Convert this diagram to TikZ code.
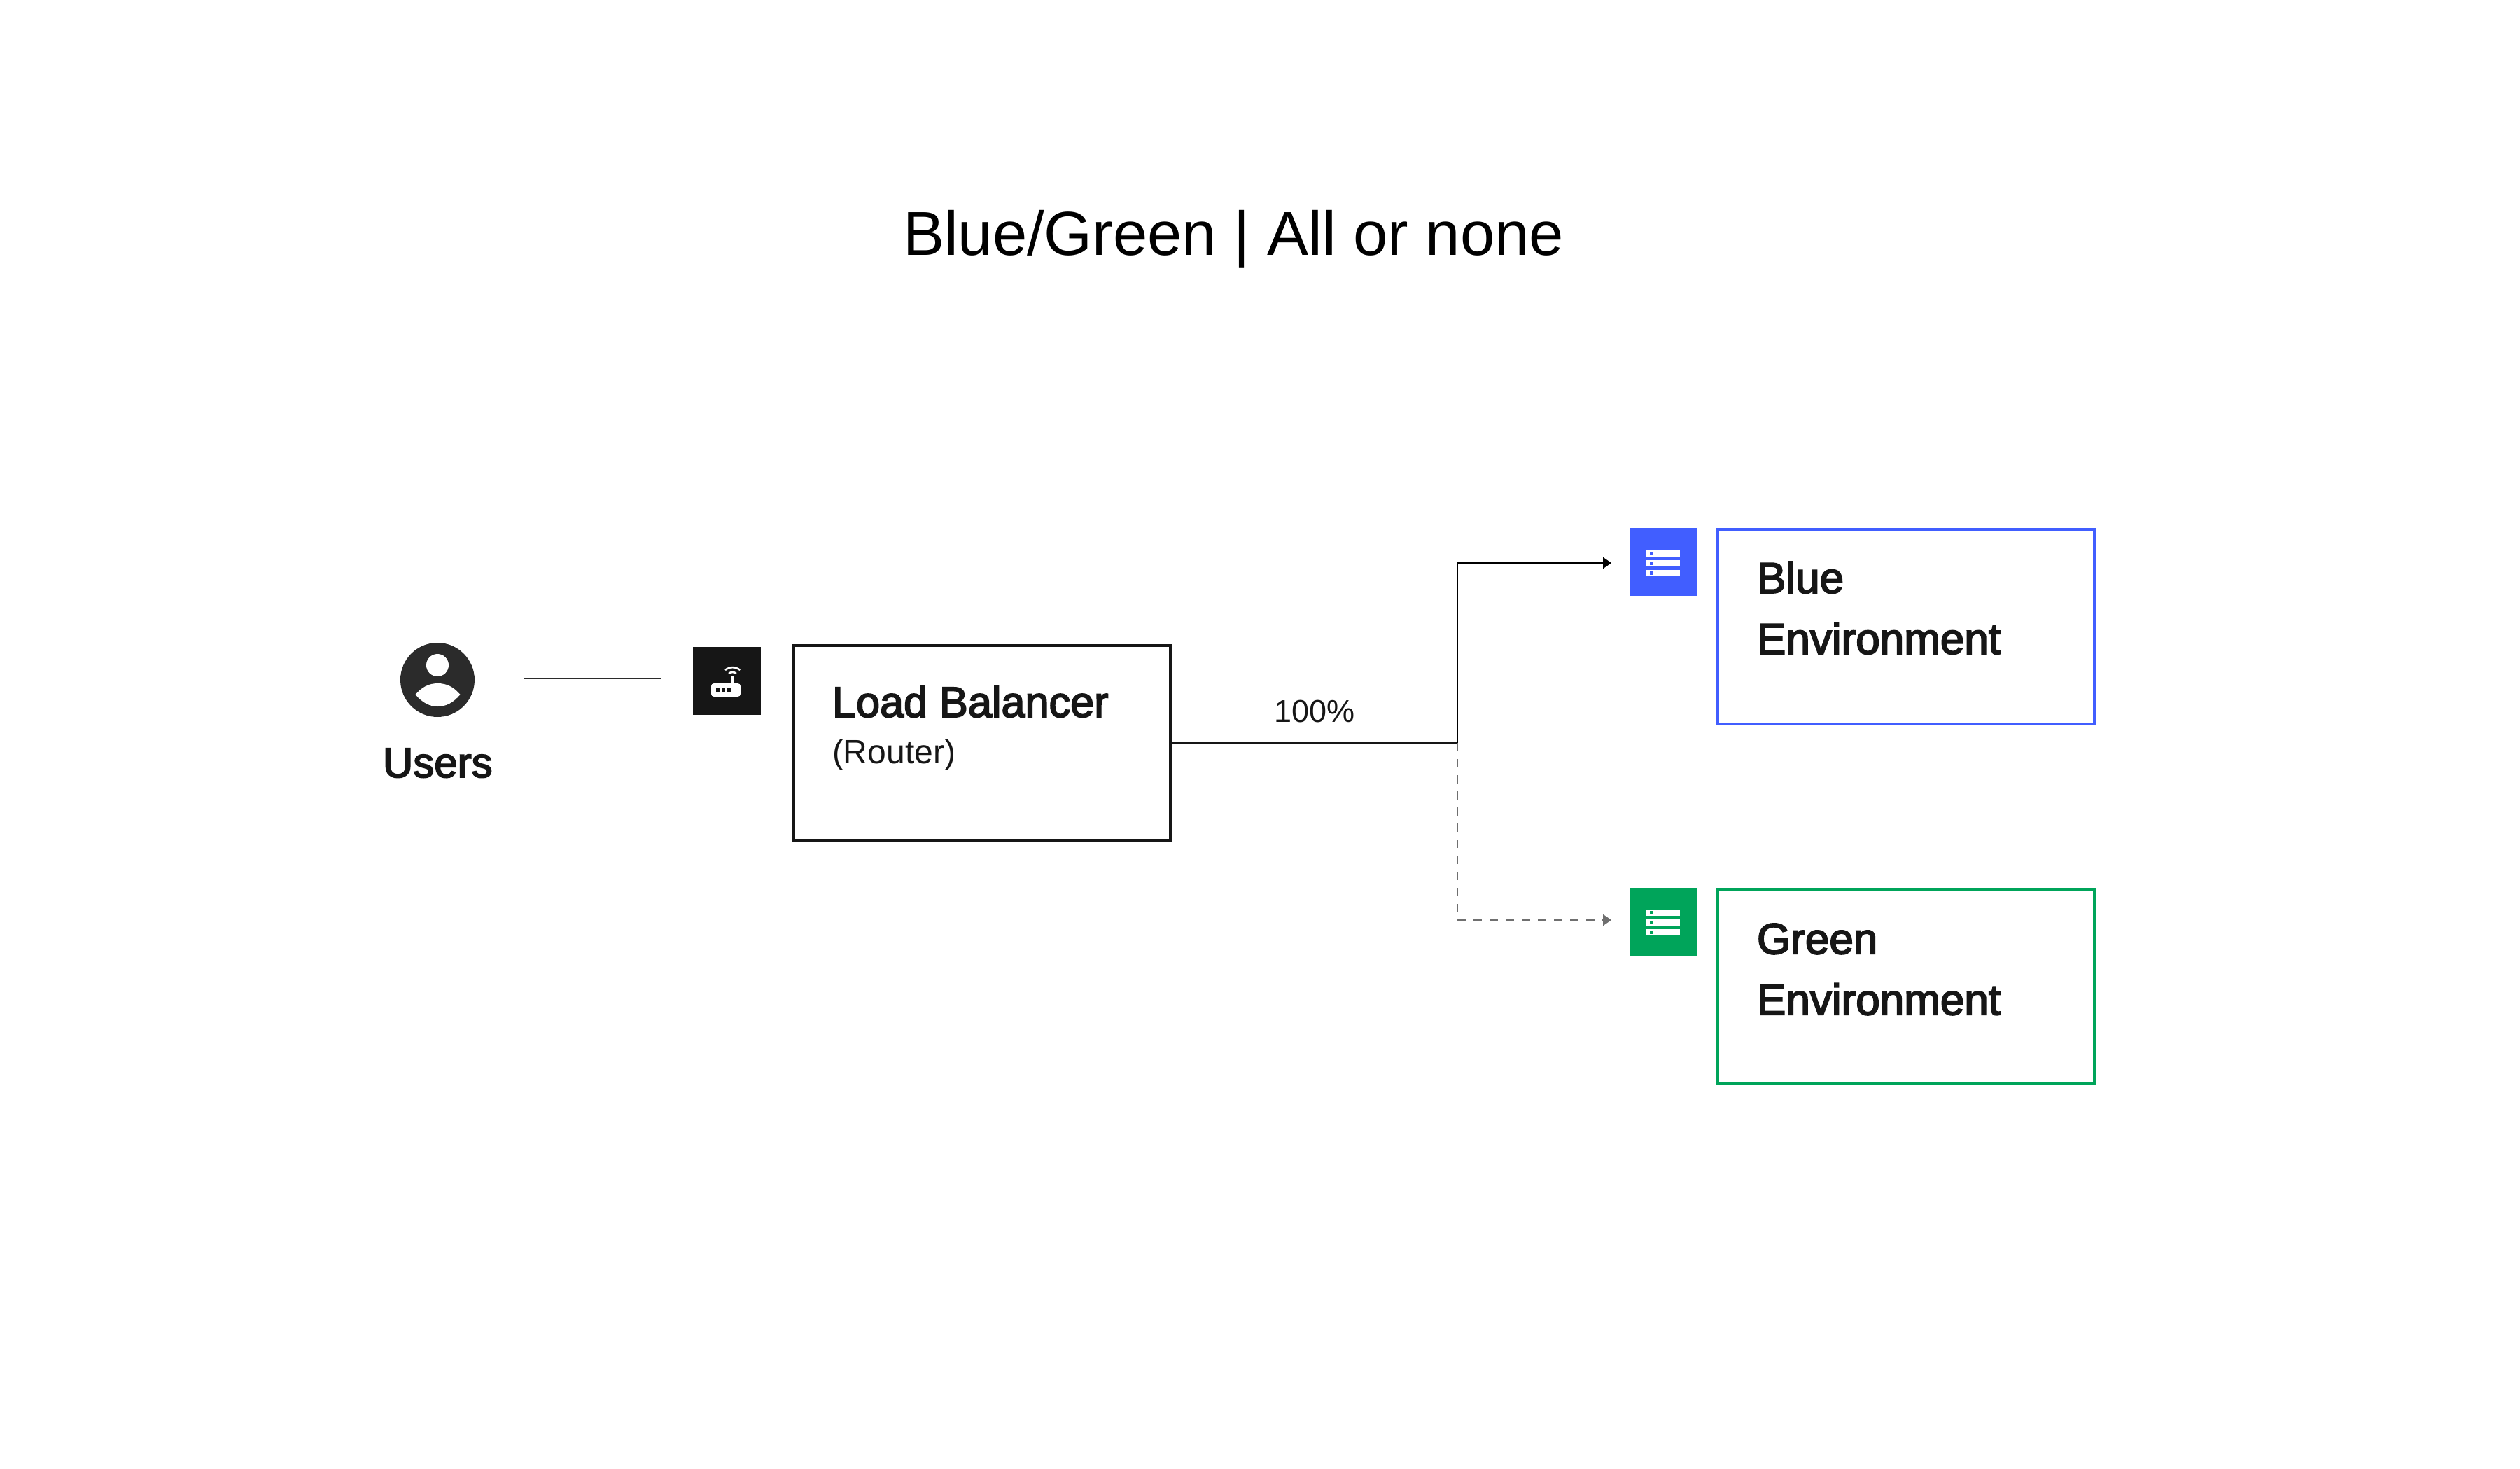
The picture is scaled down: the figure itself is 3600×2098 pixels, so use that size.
\documentclass[tikz,border=0pt]{standalone}
\usepackage{fontspec}
\setmainfont{Liberation Sans}
\newfontfamily\medf[FakeBold=3]{Liberation Sans}
\usetikzlibrary{arrows.meta}
\definecolor{ink}{HTML}{161616}
\definecolor{iconink}{HTML}{2B2B2B}
\definecolor{blueenv}{HTML}{415EFF}
\definecolor{greenenv}{HTML}{00A45A}
\definecolor{dashgray}{HTML}{6F6F6F}
\newcommand{\pxu}{*0.5pt}
\tikzset{
  envbox/.style={draw=#1,line width=2pt,fill=white,inner sep=0pt,outer sep=0pt,minimum width=538\pxu,minimum height=278\pxu},
  lbbox/.style={draw=ink,line width=2pt,fill=white,inner sep=0pt,outer sep=0pt,minimum width=538\pxu,minimum height=278\pxu},
  iconsq/.style={fill=#1,inner sep=0pt,outer sep=0pt,minimum width=97\pxu,minimum height=97\pxu},
  bar/.style={fill=white,inner sep=0pt,outer sep=0pt,minimum width=48\pxu,minimum height=9.5\pxu},
  led/.style={fill=#1,inner sep=0pt,outer sep=0pt,minimum width=4.5\pxu,minimum height=4.5\pxu},
  lbl/.style={inner sep=0pt,outer sep=0pt,anchor=base west,text=ink},
  multilbl/.style={inner sep=0pt,outer sep=0pt,anchor=north west,text=ink,align=left,font=\medf\fontsize{31}{43.5}\selectfont},
  solidlink/.style={draw=black,line width=1pt,-{Triangle[length=6pt,width=8pt]}},
  dashlink/.style={draw=dashgray,line width=1pt,dash pattern=on 6pt off 5.5pt,-{Triangle[length=6pt,width=8pt]}},
}
\begin{document}
\begin{tikzpicture}[x=0.5pt,y=-0.5pt]
\useasboundingbox (0,0) rectangle (3600,2098);
% title
\node[lbl,font=\fontsize{44.3}{50}\selectfont,text=black] (title) at (1290,364) {Blue/Green | All or none};

% users icon
\node[circle,fill=iconink,inner sep=0pt,outer sep=0pt,minimum size=53pt] (usericon) at (625,971) {};
\node[circle,fill=white,inner sep=0pt,outer sep=0pt,minimum size=16pt] (userhead) at (625,950) {};
\fill[white] (593.5,992) .. controls (603,981) and (613,976) .. (625.5,976) .. controls (638,976) and (648,981) .. (657.5,992) .. controls (648,1003) and (638,1009) .. (625.5,1009) .. controls (613,1009) and (603,1003) .. (593.5,992) -- cycle;
\node[lbl,font=\medf\fontsize{30}{36}\selectfont] (users) at (547,1110) {Users};

% users line
\coordinate (ulinea) at (748,969);
\coordinate (ulineb) at (944,969);
\draw[draw=iconink,line width=1pt] (ulinea) -- (ulineb);

% router icon
\node[iconsq=ink] (router) at (1038.5,972.5) {};
\fill[white,rounded corners=2pt] (1016,976) rectangle (1058,995);
\fill[white] (1044.5,965) rectangle (1049,977);
\draw[white,line width=1.3pt] (1041,962) arc[start angle=230,end angle=310,radius=8.5];
\draw[white,line width=1.3pt] (1036,957) arc[start angle=230,end angle=310,radius=16.5];
\fill[ink] (1023,983) rectangle (1027.5,987.5);
\fill[ink] (1031,983) rectangle (1035.5,987.5);
\fill[ink] (1039,983) rectangle (1043.5,987.5);

% load balancer
\node[lbbox] (lb) at (1403,1061) {};
\node[lbl,font=\medf\fontsize{30.6}{36}\selectfont] (lbtext) at (1189,1024) {Load Balancer};
\node[lbl,font=\fontsize{24}{28}\selectfont] (lbsub) at (1189,1090) {(Router)};
\node[lbl,font=\fontsize{22.5}{28}\selectfont] (pct) at (1820,1031) {100\%};

% environment boxes
\node[iconsq=blueenv] (blueicon) at (2376.5,802.5) {};
\node[bar] (bb1) at (2376,790.5) {};
\node[bar] (bb2) at (2376,804.5) {};
\node[bar] (bb3) at (2376,818.5) {};
\node[led=blueenv] at (2359.5,790.5) {};
\node[led=blueenv] at (2359.5,804.5) {};
\node[led=blueenv] at (2359.5,818.5) {};
\node[envbox=blueenv] (blueenvbox) at (2723,895) {};
\node[multilbl] (bluetext) at (2510,802) {Blue\\Environment};

\node[iconsq=greenenv] (greenicon) at (2376.5,1316.5) {};
\node[bar] (gb1) at (2376,1303.5) {};
\node[bar] (gb2) at (2376,1317.5) {};
\node[bar] (gb3) at (2376,1331.5) {};
\node[led=greenenv] at (2359.5,1303.5) {};
\node[led=greenenv] at (2359.5,1317.5) {};
\node[led=greenenv] at (2359.5,1331.5) {};
\node[envbox=greenenv] (greenenvbox) at (2723,1409) {};
\node[multilbl] (greentext) at (2510,1319) {Green\\Environment};

% connectors
\coordinate (split) at (2082,1061);
\coordinate (bluetip) at (2302,804);
\coordinate (greentip) at (2302,1314);
\draw[dashlink] (split) |- (greentip);
\draw[draw=ink,line width=1pt] (lb.east) -- (split);
\draw[solidlink] (split) |- (bluetip);
\end{tikzpicture}
\end{document}
